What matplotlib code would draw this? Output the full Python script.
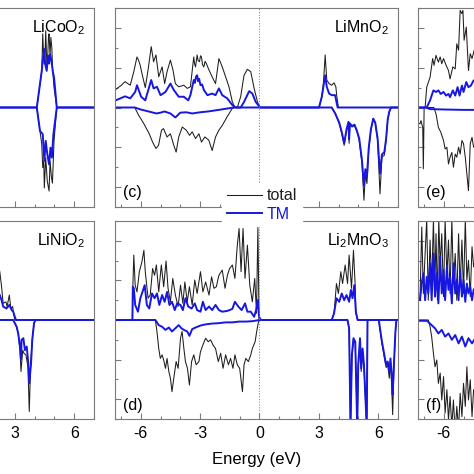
import matplotlib
matplotlib.use('Agg')
import matplotlib.pyplot as plt
from matplotlib.lines import Line2D
from matplotlib.ticker import MultipleLocator

plt.rcParams['font.family'] = ['Liberation Sans', 'DejaVu Sans']
plt.rcParams['mathtext.fontset'] = 'custom'
plt.rcParams['mathtext.rm'] = 'Liberation Sans'
plt.rcParams['mathtext.it'] = 'Liberation Sans:italic'
plt.rcParams['axes.unicode_minus'] = False

# ---- DOS curves: (energy eV, DOS in tick units) ----
# LiCoO2 (top left)
a_tot_up = [(-7.5, 0), (4.11, 0), (4.27, 0.59), (4.36, 0.92), (4.41, 1.85), (4.46, 1.18), (4.49, 1.10),
            (4.53, 1.40), (4.56, 1.93), (4.61, 1.18), (4.64, 1.01), (4.70, 1.76), (4.73, 1.85), (4.78, 1.30),
            (4.82, 1.76), (4.87, 1.50), (4.90, 1.01), (4.98, 0.50), (5.12, 0), (7.5, 0)]
a_tm_up = [(-7.5, 0), (4.11, 0), (4.27, 0.59), (4.36, 0.92), (4.41, 1.18), (4.49, 1.47), (4.53, 1.10),
           (4.61, 0.92), (4.67, 1.30), (4.73, 1.10), (4.78, 1.34), (4.85, 1.18), (4.92, 0.90), (4.98, 0.76),
           (5.12, 0), (7.5, 0)]
a_tot_dn = [(-7.5, 0), (4.11, 0), (4.27, -0.59), (4.36, -0.92), (4.41, -1.51), (4.46, -1.34), (4.49, -2.02),
            (4.56, -1.26), (4.64, -1.85), (4.73, -2.10), (4.78, -1.34), (4.85, -1.76), (4.90, -1.90),
            (4.98, -0.84), (5.12, 0), (7.5, 0)]
a_tm_dn = [(-7.5, 0), (4.11, 0), (4.27, -0.59), (4.41, -0.67), (4.49, -1.34), (4.56, -0.84), (4.64, -1.17),
           (4.73, -1.43), (4.80, -1.01), (4.87, -1.26), (4.95, -0.67), (5.12, 0), (7.5, 0)]

# LiNiO2 (bottom left)
b_tot_up = [(1.9, 1.0), (2.15, 1.40), (2.24, 1.22), (2.33, 0.84), (2.41, 0.42), (2.55, 0.46), (2.61, 0.34),
            (2.72, 0.63), (2.80, 0.29), (2.89, 0.34), (2.95, 0.13), (3.0, 0), (7.5, 0)]
b_tm_up = [(1.9, 0.9), (2.24, 0.63), (2.33, 0.50), (2.41, 0.34), (2.58, 0.29), (2.72, 0.38), (2.84, 0.25),
           (2.92, 0.21), (3.00, 0.08), (3.06, 0), (7.5, 0)]
b_tot_dn = [(1.9, 0), (2.92, 0), (3.09, -0.17), (3.17, -0.34), (3.26, -0.76), (3.31, -1.30), (3.40, -0.76),
            (3.46, -0.84), (3.56, -0.88), (3.66, -1.18), (3.73, -2.31), (3.80, -1.09), (3.88, -0.50),
            (3.97, -0.08), (4.04, 0), (7.5, 0)]
b_tm_dn = [(1.9, 0), (2.92, 0), (3.09, -0.17), (3.17, -0.34), (3.26, -0.67), (3.31, -1.0), (3.34, -0.50),
           (3.43, -0.46), (3.51, -0.76), (3.60, -0.67), (3.68, -1.09), (3.73, -1.60), (3.82, -1.09),
           (3.88, -0.50), (3.97, -0.08), (4.04, 0), (7.5, 0)]

# LiMnO2 (c)
c_tot_up = [(-7.5, 0.40), (-7.31, 0.44), (-7.0, 0.55), (-6.79, 0.65), (-6.65, 0.60), (-6.53, 0.56),
            (-6.35, 0.90), (-6.19, 1.27), (-6.11, 1.19), (-6.02, 1.05), (-5.94, 0.86), (-5.77, 0.50),
            (-5.63, 0.94), (-5.47, 1.53), (-5.35, 1.15), (-5.23, 1.32), (-5.09, 0.77), (-4.92, 1.02),
            (-4.79, 0.60), (-4.67, 0.90), (-4.50, 1.19), (-4.37, 0.94), (-4.25, 0.60), (-4.08, 0.52),
            (-3.82, 0.56), (-3.65, 0.48), (-3.49, 0.52), (-3.32, 1.27), (-3.28, 1.10), (-3.23, 1.02),
            (-3.15, 1.32), (-3.10, 1.18), (-3.03, 1.15), (-2.98, 1.30), (-2.93, 1.27), (-2.88, 1.08),
            (-2.81, 1.02), (-2.75, 1.16), (-2.69, 1.11), (-2.55, 0.94), (-2.39, 0.77), (-2.22, 0.60),
            (-2.05, 1.23), (-1.88, 1.02), (-1.71, 0.77), (-1.54, 0.52), (-1.37, 0.14), (-1.24, 0.0),
            (-1.12, 0.0), (-0.95, 0.27), (-0.78, 0.81), (-0.61, 0.96), (-0.44, 0.90), (-0.27, 0.48),
            (-0.10, 0.14), (0.02, 0.0), (3.01, 0.0), (3.15, 0.27), (3.23, 0.60), (3.32, 1.32), (3.40, 0.69),
            (3.52, 0.60), (3.65, 0.56), (3.77, 0.62), (3.86, 0.52), (3.91, 0.27), (3.99, 0.0), (7.5, 0)]
c_tm_up = [(-7.5, 0.15), (-7.31, 0.17), (-6.79, 0.28), (-6.53, 0.23), (-6.28, 0.39), (-6.19, 0.56),
           (-5.98, 0.27), (-5.77, 0.18), (-5.57, 0.52), (-5.47, 0.69), (-5.35, 0.48), (-5.18, 0.52),
           (-5.00, 0.31), (-4.75, 0.39), (-4.50, 0.60), (-4.33, 0.44), (-4.08, 0.27), (-3.82, 0.27),
           (-3.60, 0.18), (-3.49, 0.31), (-3.32, 0.69), (-3.27, 0.62), (-3.20, 0.78), (-3.15, 0.81),
           (-3.10, 0.66), (-3.05, 0.72), (-2.98, 0.56), (-2.90, 0.58), (-2.81, 0.44), (-2.63, 0.31),
           (-2.39, 0.35), (-2.22, 0.31), (-2.05, 0.48), (-1.88, 0.31), (-1.63, 0.23), (-1.37, 0.06),
           (-1.20, 0), (-0.95, 0), (-0.78, 0.14), (-0.52, 0.41), (-0.36, 0.35), (-0.19, 0.14), (0.0, 0.02),
           (0.05, 0), (3.01, 0), (3.15, 0.27), (3.32, 0.81), (3.40, 0.52), (3.52, 0.35), (3.65, 0.31),
           (3.82, 0.31), (3.95, 0.0), (7.5, 0)]
c_tot_dn = [(-7.5, 0), (-6.30, 0), (-6.11, -0.19), (-5.85, -0.40), (-5.57, -0.66), (-5.40, -0.87),
            (-5.23, -1.03), (-5.10, -0.95), (-4.95, -0.57), (-4.85, -0.53), (-4.67, -0.74), (-4.50, -0.66),
            (-4.33, -0.95), (-4.21, -1.12), (-4.08, -0.74), (-3.90, -0.49), (-3.70, -0.57), (-3.53, -0.70),
            (-3.40, -0.61), (-3.23, -0.78), (-3.06, -0.66), (-2.93, -0.87), (-2.76, -0.74), (-2.56, -0.82),
            (-2.39, -1.08), (-2.22, -0.74), (-2.05, -0.57), (-1.88, -0.45), (-1.63, -0.23), (-1.37, -0.02),
            (-1.24, 0), (3.65, 0), (3.82, -0.15), (4.03, -0.40), (4.16, -0.66), (4.28, -0.95), (4.40, -0.57),
            (4.50, -0.36), (4.53, -0.90), (4.57, -0.40), (4.68, -0.49), (4.80, -0.45), (4.92, -0.60),
            (5.04, -0.82), (5.18, -1.41), (5.28, -2.33), (5.35, -1.66), (5.43, -1.91), (5.52, -1.08),
            (5.63, -0.57), (5.75, -0.28), (5.85, -0.40), (5.97, -0.82), (6.09, -2.17), (6.19, -1.24),
            (6.31, -1.20), (6.40, -0.82), (6.48, -0.32), (6.56, -0.11), (6.65, 0), (7.5, 0)]
c_tm_dn = [(-7.5, 0), (-6.30, 0), (-6.0, -0.05), (-5.6, -0.10), (-5.2, -0.15), (-5.0, -0.13), (-4.8, -0.10),
           (-4.5, -0.15), (-4.25, -0.25), (-4.0, -0.13), (-3.7, -0.12), (-3.4, -0.15), (-3.0, -0.12),
           (-2.6, -0.10), (-2.2, -0.07), (-1.8, -0.04), (-1.3, 0), (3.65, 0), (3.82, -0.14), (4.03, -0.38),
           (4.16, -0.62), (4.28, -0.90), (4.40, -0.55), (4.50, -0.36), (4.53, -0.80), (4.57, -0.40),
           (4.68, -0.47), (4.80, -0.43), (4.92, -0.58), (5.04, -0.78), (5.18, -1.33), (5.28, -1.96),
           (5.35, -1.55), (5.43, -1.75), (5.52, -1.02), (5.63, -0.55), (5.75, -0.28), (5.85, -0.38),
           (5.97, -0.78), (6.09, -1.66), (6.19, -1.18), (6.31, -1.12), (6.40, -0.78), (6.48, -0.30),
           (6.56, -0.10), (6.65, 0), (7.5, 0)]

# Li2MnO3 (d)
d_tot_up = [(-7.5, 0), (-6.42, 0), (-6.40, 0.80), (-6.35, 1.64), (-6.28, 0.88), (-6.19, 0.71), (-6.07, 1.22),
            (-5.94, 1.47), (-5.84, 1.76), (-5.77, 1.22), (-5.63, 0.55), (-5.52, 0.63), (-5.40, 1.30),
            (-5.30, 1.13), (-5.21, 1.39), (-5.09, 0.71), (-4.96, 1.39), (-4.84, 0.84), (-4.72, 1.49),
            (-4.62, 0.80), (-4.50, 0.46), (-4.38, 1.05), (-4.25, 0.63), (-4.11, 0.34), (-3.99, 0.88),
            (-3.87, 0.42), (-3.77, 0.96), (-3.65, 0.46), (-3.54, 0.84), (-3.40, 0.38), (-3.27, 1.01),
            (-3.15, 0.67), (-2.98, 1.22), (-2.86, 0.71), (-2.72, 0.96), (-2.55, 0.63), (-2.42, 1.09),
            (-2.30, 0.80), (-2.18, 0.84), (-2.05, 1.13), (-1.88, 1.26), (-1.74, 0.80), (-1.62, 1.13),
            (-1.51, 1.30), (-1.37, 1.39), (-1.24, 1.05), (-1.12, 1.89), (-1.03, 2.31), (-0.93, 1.22),
            (-0.83, 2.31), (-0.73, 1.05), (-0.61, 1.89), (-0.49, 0.88), (-0.36, 0.46), (-0.24, 1.05),
            (-0.15, 0.17), (-0.08, 2.35), (-0.02, 0), (3.65, 0), (3.77, 0.17), (3.89, 0.92), (3.99, 0.67),
            (4.11, 1.22), (4.20, 0.92), (4.33, 1.39), (4.45, 0.92), (4.53, 1.64), (4.65, 0.80), (4.75, 1.76),
            (4.84, 0.84), (4.87, 0.17), (4.96, 0), (7.5, 0)]
d_tm_up = [(-7.5, 0), (-6.42, 0), (-6.40, 0.84), (-6.35, 0.80), (-6.28, 0.38), (-6.14, 0.21), (-6.02, 0.55),
           (-5.91, 0.71), (-5.80, 0.88), (-5.69, 0.38), (-5.57, 0.29), (-5.43, 0.67), (-5.30, 0.55),
           (-5.18, 0.67), (-5.06, 0.38), (-4.92, 0.63), (-4.79, 0.46), (-4.67, 0.71), (-4.55, 0.38),
           (-4.42, 0.46), (-4.28, 0.25), (-4.16, 0.42), (-3.99, 0.38), (-3.87, 0.25), (-3.74, 0.55),
           (-3.60, 0.34), (-3.43, 0.29), (-3.27, 0.42), (-3.15, 0.25), (-2.98, 0.21), (-2.86, 0.46),
           (-2.72, 0.25), (-2.55, 0.34), (-2.39, 0.25), (-2.22, 0.38), (-2.05, 0.25), (-1.88, 0.21),
           (-1.62, 0.23), (-1.37, 0.28), (-1.24, 0.46), (-1.07, 0.34), (-0.90, 0.25), (-0.73, 0.42),
           (-0.61, 0.21), (-0.44, 0.21), (-0.27, 0.08), (-0.15, 0.29), (-0.09, 0.50), (-0.02, 0.08),
           (0.07, 0), (3.65, 0), (3.77, 0.17), (3.89, 0.55), (4.03, 0.46), (4.16, 0.67), (4.28, 0.50),
           (4.40, 0.63), (4.53, 0.46), (4.62, 0.76), (4.70, 0.55), (4.79, 0.88), (4.87, 0.21), (4.96, 0),
           (7.5, 0)]
d_tot_dn = [(-7.5, 0), (-5.26, 0), (-5.18, -0.29), (-5.09, -0.72), (-5.01, -0.97), (-4.92, -0.88),
            (-4.84, -1.01), (-4.75, -1.22), (-4.67, -0.97), (-4.58, -1.30), (-4.50, -1.47), (-4.42, -1.81),
            (-4.33, -1.47), (-4.21, -1.05), (-4.11, -1.22), (-3.99, -0.46), (-3.91, -0.29), (-3.82, -0.72),
            (-3.74, -1.05), (-3.64, -1.22), (-3.54, -1.64), (-3.43, -1.05), (-3.32, -0.88), (-3.20, -1.13),
            (-3.06, -1.05), (-2.98, -0.80), (-2.86, -0.63), (-2.72, -0.46), (-2.59, -0.55), (-2.47, -0.50),
            (-2.35, -0.63), (-2.22, -0.72), (-2.08, -1.05), (-1.96, -0.84), (-1.84, -1.22), (-1.71, -0.88),
            (-1.57, -1.13), (-1.46, -0.97), (-1.34, -1.22), (-1.24, -0.88), (-1.12, -1.13), (-1.00, -1.22),
            (-0.86, -1.81), (-0.78, -1.13), (-0.69, -0.97), (-0.56, -1.05), (-0.44, -0.88), (-0.36, -0.72),
            (-0.22, -0.55), (-0.14, -0.29), (-0.05, -0.04), (0.02, 0), (4.45, 0), (4.53, -0.23),
            (4.60, -2.7), (4.67, -0.95), (4.75, -0.50), (4.84, -0.60), (4.94, -2.7), (4.99, -1.20),
            (5.08, -0.55), (5.14, -1.30), (5.21, -0.80), (5.28, -1.20), (5.42, -2.7), (5.46, 0), (6.03, 0),
            (6.09, -0.25), (6.19, -0.60), (6.31, -0.95), (6.40, -1.20), (6.48, -1.13), (6.56, -1.47),
            (6.62, -1.05), (6.68, -1.64), (6.73, -2.39), (6.80, -1.13), (6.87, -0.32), (6.92, 0), (7.5, 0)]
d_tm_dn = [(-7.5, 0), (-5.26, 0), (-5.09, -0.13), (-4.92, -0.17), (-4.75, -0.25), (-4.58, -0.19),
           (-4.42, -0.29), (-4.21, -0.19), (-4.08, -0.13), (-3.94, -0.21), (-3.82, -0.25), (-3.65, -0.29),
           (-3.54, -0.40), (-3.40, -0.23), (-3.23, -0.19), (-2.98, -0.14), (-2.72, -0.11), (-2.39, -0.09),
           (-2.05, -0.08), (-1.71, -0.06), (-1.37, -0.06), (-1.03, -0.04), (-0.69, -0.04), (-0.36, -0.03),
           (0.0, 0), (4.45, 0), (4.53, -0.21), (4.60, -2.7), (4.67, -0.88), (4.75, -0.46), (4.84, -0.55),
           (4.94, -2.7), (4.99, -1.13), (5.08, -0.46), (5.14, -1.22), (5.21, -0.72), (5.28, -1.13),
           (5.42, -2.7), (5.46, 0), (6.03, 0), (6.09, -0.21), (6.19, -0.55), (6.31, -0.88), (6.40, -1.13),
           (6.48, -1.05), (6.56, -1.30), (6.62, -0.97), (6.68, -1.39), (6.73, -1.89), (6.80, -1.05),
           (6.87, -0.29), (6.92, 0), (7.5, 0)]

# (e) top right
e_tot_up = [(-7.5, 0), (-6.94, 0), (-6.86, 0.51), (-6.69, 0.76), (-6.56, 1.23), (-6.49, 1.06), (-6.39, 1.31),
            (-6.27, 1.14), (-6.18, 1.27), (-6.10, 1.10), (-6.01, 1.23), (-5.88, 1.06), (-5.76, 0.93),
            (-5.68, 0.72), (-5.54, 1.02), (-5.42, 0.97), (-5.34, 1.60), (-5.25, 1.44), (-5.17, 2.44),
            (-5.08, 2.36), (-5.03, 2.44), (-4.97, 1.69), (-4.86, 2.02), (-4.75, 0.93), (-4.66, 1.35),
            (-4.57, 1.23), (-4.46, 1.44), (-4.30, 1.20)]
e_tm_up = [(-7.5, 0), (-6.86, 0), (-6.69, 0.18), (-6.61, 0.30), (-6.52, 0.43), (-6.39, 0.39), (-6.27, 0.43),
           (-6.15, 0.34), (-6.01, 0.39), (-5.88, 0.30), (-5.76, 0.34), (-5.68, 0.26), (-5.54, 0.43),
           (-5.42, 0.30), (-5.30, 0.51), (-5.20, 0.30), (-5.08, 0.55), (-5.00, 0.39), (-4.86, 0.64),
           (-4.75, 0.51), (-4.63, 0.55), (-4.49, 0.68), (-4.30, 0.60)]
e_tot_dn = [(-7.5, -0.35), (-7.20, -0.41), (-7.15, -0.33), (-7.06, -0.50), (-7.03, -1.54), (-6.99, 0),
            (-6.50, 0), (-6.39, -0.16), (-6.27, -0.50), (-6.15, -0.62), (-6.01, -0.83), (-5.93, -1.04),
            (-5.84, -1.0), (-5.76, -1.42), (-5.68, -1.25), (-5.59, -1.13), (-5.51, -1.50), (-5.42, -1.17),
            (-5.34, -1.25), (-5.25, -1.0), (-5.17, -1.17), (-5.08, -0.83), (-5.00, -0.91), (-4.91, -1.25),
            (-4.83, -1.67), (-4.75, -2.09), (-4.66, -0.91), (-4.57, -0.75), (-4.49, -1.0), (-4.30, -0.90)]
e_tm_dn = [(-7.5, 0), (-6.9, 0), (-6.7, -0.04), (-6.0, -0.05), (-5.0, -0.06), (-4.3, -0.06)]

# (f) bottom right
f_tot_up = [(-7.5, 0.8), (-7.20, 0.50), (-7.11, 2.35), (-7.03, 0.67), (-6.94, 1.68), (-6.86, 2.55),
            (-6.78, 0.50), (-6.69, 2.02), (-6.61, 0.84), (-6.52, 2.55), (-6.45, 0.76), (-6.39, 2.18),
            (-6.32, 0.50), (-6.25, 2.55), (-6.18, 1.34), (-6.10, 2.18), (-6.01, 0.59), (-5.93, 2.55),
            (-5.84, 1.09), (-5.76, 2.02), (-5.68, 0.67), (-5.59, 2.55), (-5.51, 0.92), (-5.42, 1.68),
            (-5.34, 0.50), (-5.25, 2.18), (-5.17, 0.84), (-5.08, 2.02), (-5.00, 0.67), (-4.91, 2.55),
            (-4.83, 1.01), (-4.75, 1.51), (-4.66, 0.59), (-4.57, 1.85), (-4.49, 1.34), (-4.30, 1.80)]
f_tm_up = [(-7.5, 0.6), (-7.20, 0.50), (-7.11, 0.92), (-7.03, 1.18), (-6.94, 0.50), (-6.86, 1.09),
           (-6.78, 0.67), (-6.69, 1.43), (-6.61, 0.50), (-6.52, 1.68), (-6.44, 0.59), (-6.35, 1.18),
           (-6.27, 0.42), (-6.18, 1.60), (-6.10, 0.67), (-6.01, 1.26), (-5.93, 0.50), (-5.84, 1.34),
           (-5.76, 0.76), (-5.68, 1.09), (-5.59, 0.42), (-5.51, 1.43), (-5.42, 0.67), (-5.34, 1.01),
           (-5.25, 0.50), (-5.17, 1.26), (-5.08, 0.59), (-5.00, 1.01), (-4.91, 0.46), (-4.83, 0.92),
           (-4.75, 0.67), (-4.66, 0.84), (-4.57, 0.50), (-4.49, 0.76), (-4.30, 0.90)]
f_tot_dn = [(-7.5, 0), (-6.78, 0), (-6.69, -0.17), (-6.61, -0.42), (-6.52, -0.84), (-6.44, -1.18),
            (-6.35, -1.01), (-6.27, -1.60), (-6.18, -1.34), (-6.10, -2.02), (-6.01, -1.43), (-5.93, -2.35),
            (-5.84, -1.76), (-5.76, -2.52), (-5.68, -1.93), (-5.59, -2.69), (-5.51, -2.02), (-5.42, -2.85),
            (-5.34, -2.18), (-5.25, -2.77), (-5.17, -1.85), (-5.08, -2.44), (-5.00, -1.60), (-4.91, -2.18),
            (-4.83, -1.18), (-4.75, -2.02), (-4.66, -1.51), (-4.57, -2.44), (-4.49, -1.76), (-4.30, -2.00)]
f_tm_dn = [(-7.5, -0.02), (-6.86, -0.02), (-6.78, -0.05), (-6.61, -0.13), (-6.44, -0.21), (-6.27, -0.34),
           (-6.10, -0.25), (-5.93, -0.42), (-5.76, -0.34), (-5.59, -0.50), (-5.42, -0.38), (-5.25, -0.59),
           (-5.08, -0.42), (-4.91, -0.67), (-4.75, -0.46), (-4.57, -0.59), (-4.46, -0.50), (-4.30, -0.55)]

# panel texts (only those inside the visible crop)
names = ['LiCoO$_2$', 'LiNiO$_2$', 'LiMnO$_2$', 'Li$_2$MnO$_3$', '', '']
letters = ['', '', '(c)', '(d)', '(e)', '(f)']
xticks_major = [-6, -3, 0, 3, 6]
# tick labels per column; parts of the outer columns lie outside the crop
xtick_labels = [['', '', '', '3', '6'],
                ['-6', '-3', '0', '3', '6'],
                ['-6', '', '', '', '']]

BLUE = '#1717e0'
TOTAL = '#1e1e1e'
SPINE = '#7a7a7a'

W = 474.0
col_left = [(94 - 283) / W, 115 / W, 418 / W]
col_w = 283 / W
row_bottom = [(474 - 207) / W, (474 - 419) / W]
row_h = [199 / W, 198 / W]

data = [
    (a_tot_up, a_tot_dn, a_tm_up, a_tm_dn),
    (b_tot_up, b_tot_dn, b_tm_up, b_tm_dn),
    (c_tot_up, c_tot_dn, c_tm_up, c_tm_dn),
    (d_tot_up, d_tot_dn, d_tm_up, d_tm_dn),
    (e_tot_up, e_tot_dn, e_tm_up, e_tm_dn),
    (f_tot_up, f_tot_dn, f_tm_up, f_tm_dn),
]

fig = plt.figure(figsize=(4.74, 4.74), dpi=100)

for i, curves in enumerate(data):
    col, row = i // 2, i % 2
    ax = fig.add_axes([col_left[col], row_bottom[row], col_w, row_h[row]])
    tot_up, tot_dn, tm_up, tm_dn = curves
    for c in (tot_up, tot_dn):
        e, v = zip(*c)
        ax.plot(e, v, color=TOTAL, lw=0.75)
    for c in (tm_up, tm_dn):
        e, v = zip(*c)
        ax.plot(e, v, color=BLUE, lw=1.4)
    ax.axvline(0, color='#8c8c8c', lw=0.8, ls=(0, (1, 1.5)))

    ax.set_xlim(-7.3, 7.0)
    ax.set_ylim(-2.5, 2.5)
    ax.set_xticks(xticks_major)
    ax.set_xticklabels(xtick_labels[col])
    ax.xaxis.set_minor_locator(MultipleLocator(1))
    ax.yaxis.set_major_locator(MultipleLocator(1))
    ax.yaxis.set_minor_locator(MultipleLocator(0.5))
    ax.tick_params(which='both', direction='in', top=False, right=False, colors=SPINE,
                   labelcolor='black', labelsize=11.5, labelleft=False, pad=5)
    ax.tick_params(which='major', length=4, width=0.8)
    ax.tick_params(which='minor', length=2.5, width=0.8)
    if row == 0:
        ax.tick_params(labelbottom=False)
    for s in ax.spines.values():
        s.set_color(SPINE)
        s.set_linewidth(0.8)

    if names[i]:
        ax.text(1 - 9 / 283, 1 - 10 / 199, names[i], transform=ax.transAxes,
                ha='right', va='top', fontsize=11.5)
    if letters[i]:
        ax.text(8 / 283, 14 / 199, letters[i], transform=ax.transAxes,
                ha='left', va='center', fontsize=11.5)

    if i == 3:
        ax.set_xlabel('Energy (eV)', fontsize=12, labelpad=8)

handles = [Line2D([], [], color=TOTAL, lw=0.75), Line2D([], [], color=BLUE, lw=1.4)]
fig.legend(handles, ['total', 'TM'], loc='center', bbox_to_anchor=(262 / W, 1 - 205 / W),
           frameon=True, fancybox=False, edgecolor='white', facecolor='white', framealpha=1,
           fontsize=11.5, handlelength=2.2, handletextpad=0.25, labelspacing=0.2,
           borderpad=0.3, labelcolor='linecolor')

fig.savefig('out.png', dpi=100)
